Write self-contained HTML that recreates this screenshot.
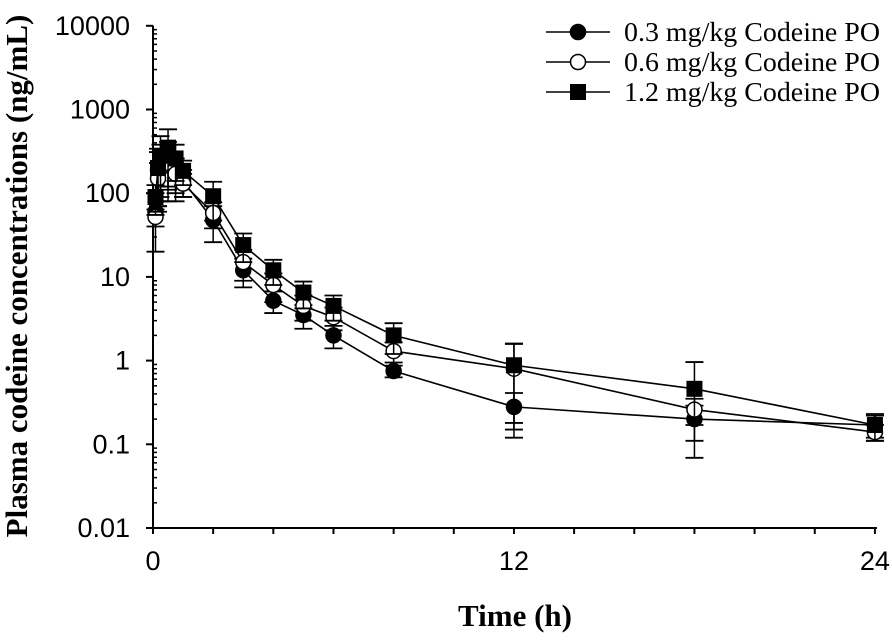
<!DOCTYPE html>
<html><head><meta charset="utf-8"><style>
body{margin:0;background:#fff}
svg text{fill:#000}
</style></head><body>
<svg id="chart" width="892" height="638" xmlns="http://www.w3.org/2000/svg"></svg>
<script>
const times=[0.083,0.167,0.25,0.5,0.75,1,2,3,4,5,6,8,12,18,24];
const low=[60,190,230,260,180,140,48,12,5.2,3.5,2.0,0.75,0.28,0.2,0.17];
const lowSd=[40,120,150,150,80,50,22,4.5,1.5,1.1,0.6,0.12,0.13,0.09,0.05];
const mid=[52,150,200,230,170,130,58,15,8,4.5,3.3,1.3,0.8,0.26,0.14];
const midSd=[12,80,110,150,90,40,20,6,3,1.5,1.0,0.35,0.8,0.09,0.03];
const high=[90,200,280,350,260,185,92,24,12,6.5,4.5,2.0,0.88,0.46,0.17];
const highSd=[35,140,200,230,120,60,45,9,4,2.3,1.5,0.8,0.7,0.5,0.06];
const yTicks=[0.01,0.1,1,10,100,1000,10000];
const yLabels=["0.01","0.1","1","10","100","1000","10000"];
const xLabels=[0,12,24];
const NS="http://www.w3.org/2000/svg";
const svg=document.getElementById('chart');
const x0=153,xPer=30.08,yBase=528,yDec=83.7;
const X=t=>x0+t*xPer;
const Y=v=>yBase-(Math.log10(v)+2)*yDec;
function el(tag,attrs,parent){const e=document.createElementNS(NS,tag);for(const k in attrs)e.setAttribute(k,attrs[k]);(parent||svg).appendChild(e);return e;}
const axes=el('g',{stroke:'#000','stroke-width':2,fill:'none'});


el('line',{x1:x0,y1:Y(10000),x2:x0,y2:yBase+1},axes);
el('line',{x1:x0-1,y1:yBase,x2:X(24)+2,y2:yBase},axes);
for(let d=-2;d<=4;d++){
  const v=Math.pow(10,d);
  el('line',{x1:x0-7,y1:Y(v),x2:x0,y2:Y(v)},axes);
  if(d<4)for(let m=2;m<=9;m++)el('line',{x1:x0,y1:Y(v*m),x2:x0+4,y2:Y(v*m),'stroke-width':1.5},axes);
}
for(let t=0;t<=24;t+=2)el('line',{x1:X(t),y1:yBase,x2:X(t),y2:yBase+6},axes);
yTicks.forEach((v,i)=>{const t=el('text',{x:x0-23,y:Y(v)+9,'text-anchor':'end','font-family':'Liberation Sans, sans-serif','font-size':27});t.textContent=yLabels[i];

});
xLabels.forEach(v=>{const t=el('text',{x:X(v),y:yBase+42,'text-anchor':'middle','font-family':'Liberation Sans, sans-serif','font-size':27});t.textContent=v;

});
const xt=el('text',{x:515,y:626,'text-anchor':'middle','font-family':'Liberation Serif, serif','font-size':31,'font-weight':'bold'});xt.textContent='Time (h)';


const yt=el('text',{x:0,y:0,transform:'translate(27,276) rotate(-90)','text-anchor':'middle','font-family':'Liberation Serif, serif','font-size':31,'font-weight':'bold'});yt.textContent='Plasma codeine concentrations (ng/mL)';


function marker(g,type,cx,cy){
  if(type==='sq')el('rect',{x:cx-7.5,y:cy-7.5,width:15,height:15,fill:'#000',stroke:'#000','stroke-width':1},g);
  else el('circle',{cx,cy,r:7.5,fill:type==='filled'?'#000':'#fff',stroke:'#000','stroke-width':1.5},g);
}
const series=[[low,lowSd,'filled','series-0-3-mgkg'],[mid,midSd,'open','series-0-6-mgkg'],[high,highSd,'sq','series-1-2-mgkg']];
series.forEach(([vals,sds,type,name])=>{
  const g=el('g',{});
  
  
  el('polyline',{points:vals.map((v,i)=>X(times[i])+','+Y(v)).join(' '),fill:'none',stroke:'#000','stroke-width':1.6},g);
  vals.forEach((v,i)=>{
    const hi=v+sds[i],lo=Math.max(v-sds[i],v*0.15);
    const cx=X(times[i]);
    el('line',{x1:cx,y1:Y(hi),x2:cx,y2:Y(lo),stroke:'#000','stroke-width':1.5},g);
    el('line',{x1:cx-9,y1:Y(hi),x2:cx+9,y2:Y(hi),stroke:'#000','stroke-width':1.8},g);
    el('line',{x1:cx-9,y1:Y(lo),x2:cx+9,y2:Y(lo),stroke:'#000','stroke-width':1.8},g);
  });
  vals.forEach((v,i)=>marker(g,type,X(times[i]),Y(v)));
});
const legendNames=['0.3 mg/kg Codeine PO','0.6 mg/kg Codeine PO','1.2 mg/kg Codeine PO'];
const legendTypes=['filled','open','sq'];
legendNames.forEach((n,i)=>{
  const g=el('g',{});
  
  
  const y=32+i*30;
  el('line',{x1:546,y1:y,x2:610,y2:y,stroke:'#000','stroke-width':1.6},g);
  marker(g,legendTypes[i],578,y);
  const t=el('text',{x:624,y:y+9,'font-family':'Liberation Serif, serif','font-size':27,textLength:256,lengthAdjust:'spacingAndGlyphs'},g);t.textContent=n;
});
</script>
</body></html>
